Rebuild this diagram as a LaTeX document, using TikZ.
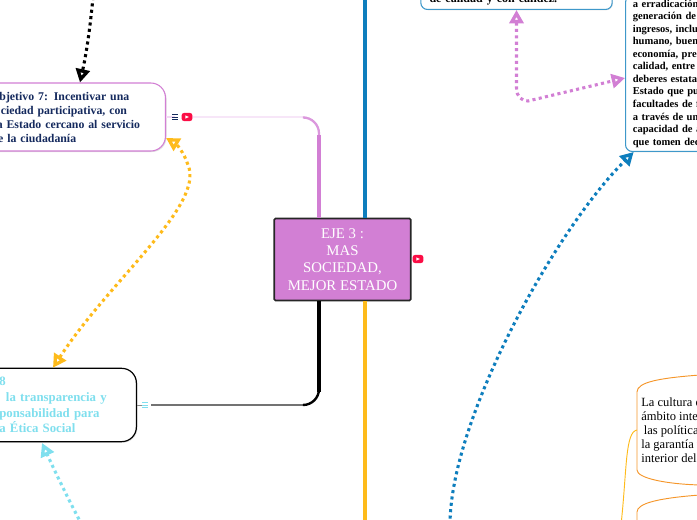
\documentclass[tikz,border=0pt]{standalone}
\usepackage{fontspec}
\setmainfont{Liberation Serif}
\usetikzlibrary{arrows.meta,shadows}
\definecolor{ejepink}{HTML}{D27FD4}
\definecolor{palepink}{HTML}{F3D9F4}
\definecolor{ejeblue}{HTML}{0E7EBD}
\definecolor{ejeyellow}{HTML}{FEBB1B}
\definecolor{ejecyan}{HTML}{7FDFEE}
\definecolor{ejenavy}{HTML}{152A5E}
\definecolor{ejeorange}{HTML}{F5962A}
\definecolor{ejered}{HTML}{FB0D45}
\newcommand{\tuberect}[1]{%
\node (#1x) [pill] at (#1) {};
\fill[white] ([xshift=-1.2pt,yshift=1.2pt]#1x.center) -- ([xshift=1.4pt]#1x.center) -- ([xshift=-1.2pt,yshift=-1.2pt]#1x.center) -- cycle;
}
\newcommand{\notemark}[2]{%
\draw[#2,line width=.45pt] ([shift={(-3,-2.5)}]#1) -- ([shift={(3,-2.5)}]#1);
\draw[#2,line width=.45pt] ([shift={(-3,0)}]#1) -- ([shift={(3,0)}]#1);
\draw[#2,line width=.45pt] ([shift={(-3,2.5)}]#1) -- ([shift={(3,2.5)}]#1);
}
\begin{document}
\begin{tikzpicture}[x=.75pt,y=-.75pt,
objbox/.style={
rectangle,
draw,
fill=white,
rounded corners=11pt,
align=left,
font=\fontsize{8.85}{10.5}\selectfont\bfseries,
drop shadow={shadow xshift=.8pt,shadow yshift=-.8pt,opacity=.25}
},
textbox/.style={
rectangle,
draw=ejeblue!80,
fill=white,
line width=.8pt,
rounded corners=5pt,
align=left,
font=\fontsize{7.9}{9.42}\selectfont\bfseries,
drop shadow={shadow xshift=.6pt,shadow yshift=-.6pt,opacity=.2}
},
eje/.style={
rectangle,
draw=black!85,
fill=ejepink,
line width=1.3pt,
rounded corners=1pt,
minimum width=102.5pt,
minimum height=61.5pt,
inner sep=0pt,
text=white,
align=center,
font=\fontsize{11.1}{12.95}\selectfont
},
pill/.style={
rectangle,
fill=ejered,
rounded corners=2pt,
minimum width=8.2pt,
minimum height=6.2pt,
inner sep=0pt
},
link/.style={
line width=2.3pt,
dash pattern=on 2.3pt off 2.5pt,
-{Triangle[open,length=10pt,width=10.5pt,line width=2.6pt]}
},
twolink/.style={
link,
{Triangle[open,length=10pt,width=10.5pt,line width=2.6pt]}-{Triangle[open,length=10pt,width=10.5pt,line width=2.6pt]}
},
]
\useasboundingbox (0,0) rectangle (697,520);
\clip (0,0) rectangle (697,520);

\node (eje) [eje] at (342.5,259.5) {EJE 3 :\\MAS\\SOCIEDAD,\\MEJOR ESTADO};
\node (obj7) [objbox,draw=ejepink,line width=.8pt,text=ejenavy,anchor=east,text width=108pt,inner xsep=16.5pt,minimum height=51pt] at (166,117)
{bjetivo 7: Incentivar una\\\hspace*{1pt}ciedad participativa, con\\\hspace*{-2pt}a Estado cercano al servicio\\\hspace*{-1pt}e la ciudadanía};
\node (obj8) [objbox,draw=black,line width=.9pt,text=ejecyan,anchor=east,text width=81pt,inner xsep=21.8pt,minimum height=55pt,font=\fontsize{9.6}{11.75}\selectfont\bfseries] at (137,405)
{8\\\hspace*{5pt}la transparencia y\\ponsabilidad para\\a Ética Social};
\node (calidad) [textbox,anchor=south,text width=130.5pt,inner xsep=6.5pt,inner ysep=3.5pt,font=\fontsize{9}{10}\selectfont\bfseries] at (516.5,10) {de calidad y con calidez.};
\node (deberes) [textbox,anchor=south west,text width=100pt,inner xsep=5.5pt,inner ysep=3pt] at (625,152)
{a erradicación\\generación de\\ingresos, inclu\\humano, buen\\economía, pres\\calidad, entre\\deberes estatal\\Estado que pu\\facultades de f\\a través de una\\capacidad de a\\que tomen dec};
\node (cultura) [anchor=west,inner xsep=3pt,inner ysep=0pt,align=left,font=\fontsize{9.4}{10.5}\selectfont] at (637,430)
{La cultura e\\ámbito inte\\\hspace*{2pt}las política\\la garantía y\\interior del};

\coordinate (pinkfoot) at (319,218);
\coordinate (blackfoot) at (319,301);
\coordinate (pinkmark) at (175,117);
\coordinate (pinktube) at (187,117);
\coordinate (cyanmark) at (145,405);
\coordinate (ejetube) at (418,259);
\coordinate (bluetop) at (365,-3);
\coordinate (yellowend) at (365,523);
\coordinate (blacktop) at (93,-3);
\coordinate (cyanstart) at (82,525);
\coordinate (bluestart) at (450,525);
\coordinate (thinstart) at (621,525);

% branches of the hub
\draw[palepink,line width=.9pt,rounded corners=12pt] (pinktube) -| (319,150);
\draw[ejepink!80,line width=1.7pt,rounded corners=12pt] (305,117.5) -| (319,150);
\draw[ejepink,line width=2.4pt] (319,135) -- (pinkfoot);
\draw[black!55,line width=.8pt] (151,405) -- (306,405);
\draw[black,line width=1.8pt,rounded corners=12pt] (319,380) |- (305,405);
\draw[black,line width=2.4pt] (blackfoot) -- (319,392);
\draw[palepink,line width=.8pt] (obj7.east) -- (pinkmark);
\draw[black!45,line width=.6pt] (obj8.east) -- (cyanmark);
\draw[ejeblue,line width=2.3pt] (bluetop) -- (365,218);
\draw[ejeyellow,line width=2.3pt] (365,301) -- (yellowend);

% dotted links
\draw[link,black] (blacktop) .. controls (90,30) and (86,55) .. (obj7.north -| 80,0);
\draw[twolink,ejeyellow] (obj8.north -| 53,0) .. controls (110,280) and (205,205) .. (188,165) .. controls (184,152) and (176,144) .. (166,138);
\draw[link,ejecyan] (cyanstart) .. controls (66,495) and (52,465) .. (42,443);
\draw[twolink,ejepink] (calidad.south) -- (516.5,88) .. controls (516.5,97) and (522,101) .. (528,101) -- ([yshift=55.5pt]deberes.south west);
\draw[link,ejeblue] (bluestart) .. controls (450,420) and (555,230) .. ([xshift=6.5pt]deberes.south west);

% thin orange shapes
\draw[ejeorange,line width=.7pt] (700,375) .. controls (660,378) and (637,382) .. (637,392) -- (637,470) .. controls (637,478) and (665,484) .. (700,485);
\draw[ejeorange,line width=.7pt] (700,495) .. controls (660,498) and (637,503) .. (637,512) -- (637,525);
\draw[ejeyellow,line width=.7pt] (thinstart) .. controls (627,470) and (625,432) .. (cultura.west);

\notemark{pinkmark}{ejenavy}
\notemark{cyanmark}{ejecyan}
\tuberect{pinktube}
\tuberect{ejetube}
\end{tikzpicture}
\end{document}
